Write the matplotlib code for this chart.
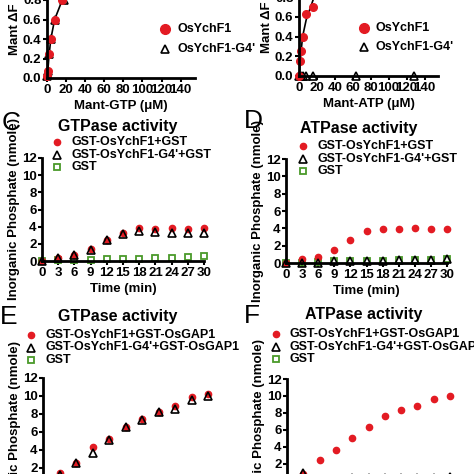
import matplotlib
matplotlib.use("Agg")
import matplotlib.pyplot as plt
import numpy as np

plt.rcParams['font.family'] = ['Liberation Sans', 'DejaVu Sans']
plt.rcParams['font.weight'] = 'bold'
plt.rcParams['font.size'] = 9
plt.rcParams['axes.labelweight'] = 'bold'
plt.rcParams['xtick.labelsize'] = 9.5
plt.rcParams['ytick.labelsize'] = 9.5
plt.rcParams['axes.labelsize'] = 9.5

RED = '#e31b23'
GREEN = '#4a9a2a'

# Panel A
a_x = [0, 1, 2, 4, 8, 16]
a_red = [0.02, 0.07, 0.25, 0.40, 0.60, 0.80]
a_tri_x = [0, 1, 2, 4, 8, 18]
a_tri = [0.02, 0.07, 0.25, 0.40, 0.60, 0.80]
a_curve_x = [0, 1, 2, 4, 8, 16, 30]
a_curve_y = [0.0, 0.09, 0.22, 0.40, 0.60, 0.80, 0.98]
# Panel B
b_x = [0, 1, 2, 4, 8, 16]
b_red = [0.0, 0.15, 0.25, 0.40, 0.63, 0.70]
b_tri_x = [0, 2, 4, 8, 16, 64, 128]
b_tri = [0, 0, 0, 0, 0, 0, 0]
b_curve_x = [0, 2, 4, 8, 16, 30]
b_curve_y = [0.0, 0.22, 0.40, 0.57, 0.78, 1.0]
# Panels C-F
t = [0, 3, 6, 9, 12, 15, 18, 21, 24, 27, 30]
c_red = [0, 0.3, 0.7, 1.4, 2.5, 3.3, 3.8, 3.7, 3.8, 3.7, 3.8]
c_tri = [0, 0.4, 0.7, 1.3, 2.4, 3.2, 3.5, 3.4, 3.3, 3.3, 3.3]
c_gst = [0, 0.1, 0.1, 0.15, 0.2, 0.25, 0.2, 0.3, 0.35, 0.5, 0.55]
d_red = [0, 0.5, 0.7, 1.5, 2.7, 3.7, 3.9, 3.9, 4.0, 3.9, 3.9]
d_tri = [0, 0, 0, 0.2, 0.2, 0.2, 0.2, 0.3, 0.4, 0.4, 0.5]
d_gst = [0, 0.05, 0.1, 0.2, 0.2, 0.25, 0.25, 0.3, 0.35, 0.35, 0.5]
e_red = [0, 1.4, 2.6, 4.3, 5.2, 6.6, 7.4, 8.2, 8.9, 9.9, 10.2]
e_tri = [0, 1.2, 2.5, 3.7, 5.1, 6.5, 7.3, 8.2, 8.5, 9.6, 10.0]
e_gst = [0, 0.1, 0.1, 0.15, 0.2, 0.2, 0.25, 0.3, 0.3, 0.35, 0.4]
f_red = [0, 0.8, 2.5, 3.6, 5.0, 6.4, 7.6, 8.3, 8.8, 9.7, 10.0]
f_tri = [0, 0.9, 0.2, 0.2, 0.3, 0.3, 0.3, 0.3, 0.4, 0.4, 0.5]
f_gst = [0, 0.1, 0.1, 0.15, 0.2, 0.2, 0.25, 0.3, 0.3, 0.35, 0.4]

W = 474.0
fig = plt.figure(figsize=(4.74, 4.74), dpi=100)

def ax_px(l, r, b, tp):
    return fig.add_axes([l / W, 1 - b / W, (r - l) / W, (b - tp) / W])

def style(ax):
    for s in ['top', 'right']:
        ax.spines[s].set_visible(False)
    for s in ['left', 'bottom']:
        ax.spines[s].set_linewidth(2)
    ax.tick_params(width=1.5, length=3, pad=1)

def fx(x): return x / W
def fy(y): return 1 - y / W

# A
ax = ax_px(47, 195, 78, -19.5)
style(ax)
ax.plot(a_curve_x, a_curve_y, color='black', lw=1.2)
ax.plot(a_tri_x, a_tri, '^', mfc='none', mec='black', ms=6, mew=1.2, clip_on=False)
ax.plot(a_x, a_red, 'o', color=RED, ms=5.5, clip_on=False)
ax.set_xlim(0, 155); ax.set_ylim(0, 1.0)
ax.set_xticks(range(0, 141, 20)); ax.set_yticks([0, 0.2, 0.4, 0.6, 0.8])
ax.set_yticklabels(['0.0', '0.2', '0.4', '0.6', '0.8'])
ax.set_xlabel('Mant-GTP (μM)', labelpad=3)
ax.set_ylabel('Mant ΔF', labelpad=1)
ax.plot([0.8], [0.5], 'o', color=RED, ms=7, transform=ax.transAxes, clip_on=False)
ax.text(0.88, 0.5, 'OsYchF1', transform=ax.transAxes, va='center')
ax.plot([0.8], [0.3], '^', mfc='none', mec='black', ms=6, mew=1.2, transform=ax.transAxes, clip_on=False)
ax.text(0.88, 0.3, "OsYchF1-G4'", transform=ax.transAxes, va='center')

# B
ax = ax_px(299, 438, 76, -22.5)
style(ax)
ax.plot(b_curve_x, b_curve_y, color='black', lw=1.2)
ax.plot(b_tri_x, b_tri, '^', mfc='none', mec='black', ms=6, mew=1.2, clip_on=False)
ax.plot(b_x, b_red, 'o', color=RED, ms=5.5, clip_on=False)
ax.set_xlim(0, 155); ax.set_ylim(0, 1.0)
ax.set_xticks(range(0, 141, 20)); ax.set_yticks([0, 0.2, 0.4, 0.6, 0.8])
ax.set_yticklabels(['0.0', '0.2', '0.4', '0.6', '0.8'])
ax.set_xlabel('Mant-ATP (μM)', labelpad=3)
ax.set_ylabel('Mant ΔF', labelpad=1)
ax.plot([0.47], [0.49], 'o', color=RED, ms=7, transform=ax.transAxes, clip_on=False)
ax.text(0.55, 0.49, 'OsYchF1', transform=ax.transAxes, va='center')
ax.plot([0.47], [0.29], '^', mfc='none', mec='black', ms=6, mew=1.2, transform=ax.transAxes, clip_on=False)
ax.text(0.55, 0.29, "OsYchF1-G4'", transform=ax.transAxes, va='center')

def time_panel(l, r, b, tp, red, tri, gst, letter, lx, ly, title, tx, ty, labels, legx, legy):
    ax = ax_px(l, r, b, tp)
    style(ax)
    ax.plot(t, gst, 's', mfc='none', mec=GREEN, ms=5, mew=1.3, clip_on=False)
    ax.plot(t, red, 'o', color=RED, ms=4.5, clip_on=False)
    ax.plot(t, tri, '^', mfc='none', mec='black', ms=5.5, mew=1.2, clip_on=False)
    ax.set_xlim(0, 30); ax.set_ylim(0, 12)
    ax.set_xticks(t); ax.set_yticks(range(0, 13, 2))
    ax.set_xlabel('Time (min)', labelpad=3)
    ax.set_ylabel('Inorganic Phosphate (nmole)', labelpad=1)
    fig.text(fx(lx), fy(ly), letter, fontsize=19, fontweight='normal', va='center', ha='left')
    fig.text(fx(tx), fy(ty), title, fontsize=11.5, ha='center', va='center')
    styles = [dict(marker='o', color=RED, ms=4.5, mec=RED),
              dict(marker='^', mfc='none', mec='black', ms=5.5, mew=1.2),
              dict(marker='s', mfc='none', mec=GREEN, ms=5, mew=1.3)]
    for i, (lab, st) in enumerate(zip(labels, styles)):
        y = legy + i * 12.5
        fig.lines.append(plt.Line2D([fx(legx)], [fy(y)], transform=fig.transFigure, linestyle='none', **st))
        fig.text(fx(legx + 14), fy(y), lab, va='center', ha='left')
    return ax

time_panel(42, 204, 261, 158, c_red, c_tri, c_gst, 'C', 2, 123, 'GTPase activity', 118, 127,
           ['GST-OsYchF1+GST', "GST-OsYchF1-G4'+GST", 'GST'], 57, 142)
time_panel(286, 447, 263, 159, d_red, d_tri, d_gst, 'D', 244, 121, 'ATPase activity', 359, 128,
           ['GST-OsYchF1+GST', "GST-OsYchF1-G4'+GST", 'GST'], 303, 146)
time_panel(43, 208, 486, 378, e_red, e_tri, e_gst, 'E', 0, 317, 'GTPase activity', 118, 316,
           ['GST-OsYchF1+GST-OsGAP1', "GST-OsYchF1-G4'+GST-OsGAP1", 'GST'], 31, 335)
time_panel(287, 450, 481, 379, f_red, f_tri, f_gst, 'F', 244, 316, 'ATPase activity', 364, 315,
           ['GST-OsYchF1+GST-OsGAP1', "GST-OsYchF1-G4'+GST-OsGAP1", 'GST'], 276, 334)

fig.savefig('out.png', dpi=100)
